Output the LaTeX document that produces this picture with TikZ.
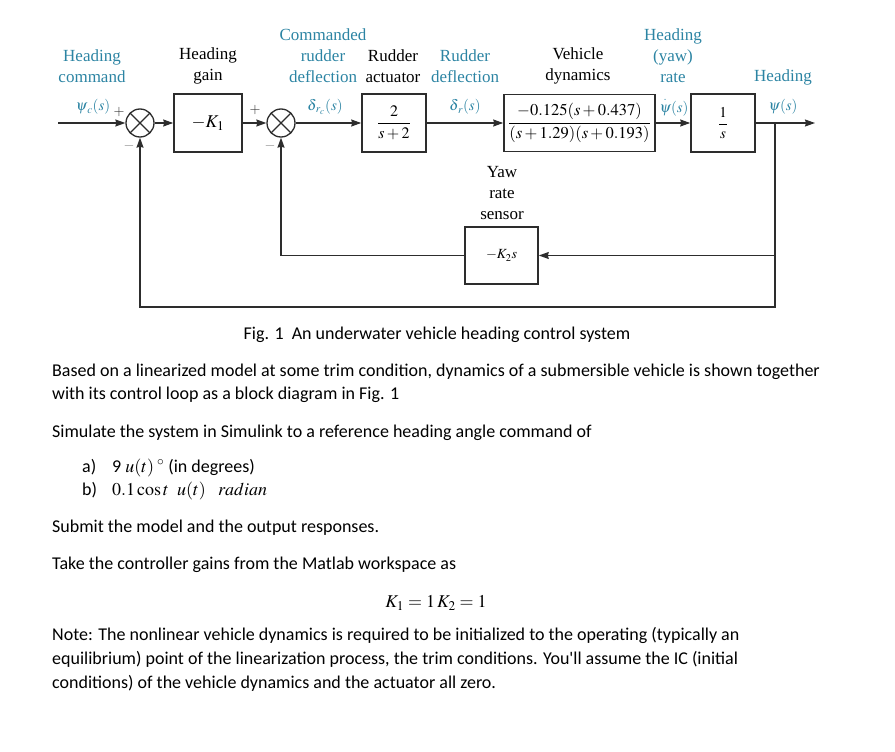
\documentclass[tikz,border=0pt]{standalone}
\usepackage{amsmath}
\usepackage{mathptmx}
\usepackage[no-math]{fontspec}
\setmainfont{Liberation Serif}
\newfontfamily\bodyfont{Carlito}
\usetikzlibrary{arrows.meta}

\definecolor{sigteal}{RGB}{44,132,163}
\definecolor{linegray}{RGB}{45,45,45}

\tikzset{
  blk/.style={draw=linegray, line width=1.6pt, minimum height=58pt, inner sep=0pt},
  sumjn/.style={circle, draw=linegray, line width=1.3pt, minimum size=28pt, inner sep=0pt,
    path picture={\draw[linegray, line width=1.3pt]
      (path picture bounding box.north west) -- (path picture bounding box.south east)
      (path picture bounding box.north east) -- (path picture bounding box.south west);}},
  wire/.style={draw=linegray, line width=1.2pt},
  lbl/.style={align=center, inner sep=0pt, font=\fontsize{17}{21}\selectfont},
  sig/.style={text=sigteal, inner sep=0pt, font=\fontsize{15}{18}\selectfont},
  pm/.style={text=linegray, inner sep=0pt, font=\fontsize{14}{14}\selectfont},
  body/.style={anchor=mid west, inner sep=0pt, font=\bodyfont\fontsize{18}{22}\selectfont}
}

\begin{document}
\begin{tikzpicture}[x=1pt, y=-1pt]
    \useasboundingbox (0,0) rectangle (895,752);

    % summing junctions and blocks
    \begin{scope}[every node/.style={sumjn}]
    \node (S1) at (140,123) {};
    \node (S2) at (281,123) {};
    \end{scope}

    \begin{scope}[every node/.style={blk}]
    \node[minimum width=68pt, font=\fontsize{18}{20}\selectfont] (G1) at (208,123) {$-K_1$};
    \node[minimum width=64pt, font=\fontsize{16}{18}\selectfont] (ACT) at (394,123) {$\dfrac{2}{s+2}$};
    \node[minimum width=151pt, minimum height=57pt, font=\fontsize{16.5}{18}\selectfont] (VEH) at (579.5,123) {$\dfrac{-0.125(s+0.437)}{(s+1.29)(s+0.193)}$};
    \node[minimum width=64pt, font=\fontsize{15}{17}\selectfont] (INT) at (723,123) {$\dfrac{1}{s}$};
    \node[minimum width=73pt, minimum height=57pt, font=\fontsize{14}{16}\selectfont] (SEN) at (501.5,255.5) {$-K_2s$};
    \end{scope}

    \coordinate (in) at (58,123);
    \coordinate (out) at (815,123);
    \coordinate (br) at (775,123);
    \coordinate (tap) at (775,255.5);
    \coordinate (fb) at (775,307);

    % connectors
    \begin{scope}[>={Stealth[length=10pt, width=7pt, inset=1pt]}]
    \draw[wire,->] (in) -- (S1);
    \draw[wire,->] (S1) -- (G1);
    \draw[wire,->] (G1) -- (S2);
    \draw[wire,->] (S2) -- (ACT);
    \draw[wire,->] (ACT) -- (VEH);
    \draw[wire,->] (VEH) -- (INT);
    \draw[wire,->] (INT) -- (out);
    \draw[wire,->] (br) -- (fb) -| (S1);
    \draw[wire,->] (tap) -- (SEN);
    \draw[wire,->] (SEN) -| (S2);
    \end{scope}

    % signs
    \node[pm] (p1) at (119,112) {$+$};
    \node[pm, text=gray] (m1) at (129,146) {$-$};
    \node[pm] (p2) at (255,110) {$+$};
    \node[pm, text=gray] (m2) at (270,146) {$-$};

    % block and signal labels
    \node[lbl, text=sigteal] (hc) at (92,66) {Heading\\command};
    \node[lbl] (hg) at (208,66) {Heading\\gain};
    \node[lbl, text=sigteal] (crd) at (323,56) {Commanded\\rudder\\deflection};
    \node[lbl] (ra) at (393,66) {Rudder\\actuator};
    \node[lbl, text=sigteal] (rd) at (465,66) {Rudder\\deflection};
    \node[lbl] (vd) at (578,66) {Vehicle\\dynamics};
    \node[lbl, text=sigteal] (hyr) at (673,56) {Heading\\(yaw)\\rate};
    \node[lbl, text=sigteal] (hd) at (783,77) {Heading};
    \node[lbl] (yrs) at (502,193) {Yaw\\rate\\sensor};

    \node[sig] (psic) at (93,107) {$\psi_{\mkern2mu c}(s)$};
    \node[sig] (drc) at (325,107) {$\delta_{\mkern2mu r_c}(s)$};
    \node[sig] (dr) at (465,107) {$\delta_{\mkern2mu r}(s)$};
    \node[sig] (psid) at (674,107) {$\overset{\raisebox{2pt}{$\scriptstyle .$}}{\psi}(s)$};
    \node[sig] (psi) at (783,107) {$\psi(s)$};

    % text below the figure
    \node[body, anchor=mid] (cap) at (437,337) {Fig. 1\ \ An underwater vehicle heading control system};
    \node[body] (t1) at (52,374) {Based on a linearized model at some trim condition, dynamics of a submersible vehicle is shown together};
    \node[body] (t2) at (52,397) {with its control loop as a block diagram in Fig. 1};
    \node[body] (t3) at (52,435) {Simulate the system in Simulink to a reference heading angle command of};
    \node[body] (la) at (82,470) {a)};
    \node[body] (ia) at (112,470) {9 $u(t)$\,$^{\circ}$ (in degrees)};
    \node[body] (lb) at (82,493) {b)};
    \node[body] (ib) at (112,493) {$0.1\cos t\ \ u(t)\ \ \ radian$};
    \node[body] (t4) at (52,530) {Submit the model and the output responses.};
    \node[body] (t5) at (52,567) {Take the controller gains from the Matlab workspace as};
    \node[body, anchor=mid] (kk) at (436,605) {$K_1 = 1\,K_2 = 1$};
    \node[body] (t6) at (52,638) {Note: The nonlinear vehicle dynamics is required to be initialized to the operating (typically an};
    \node[body] (t7) at (52,662) {equilibrium) point of the linearization process, the trim conditions. You'll assume the IC (initial};
    \node[body] (t8) at (52,686) {conditions) of the vehicle dynamics and the actuator all zero.};
\end{tikzpicture}
\end{document}
